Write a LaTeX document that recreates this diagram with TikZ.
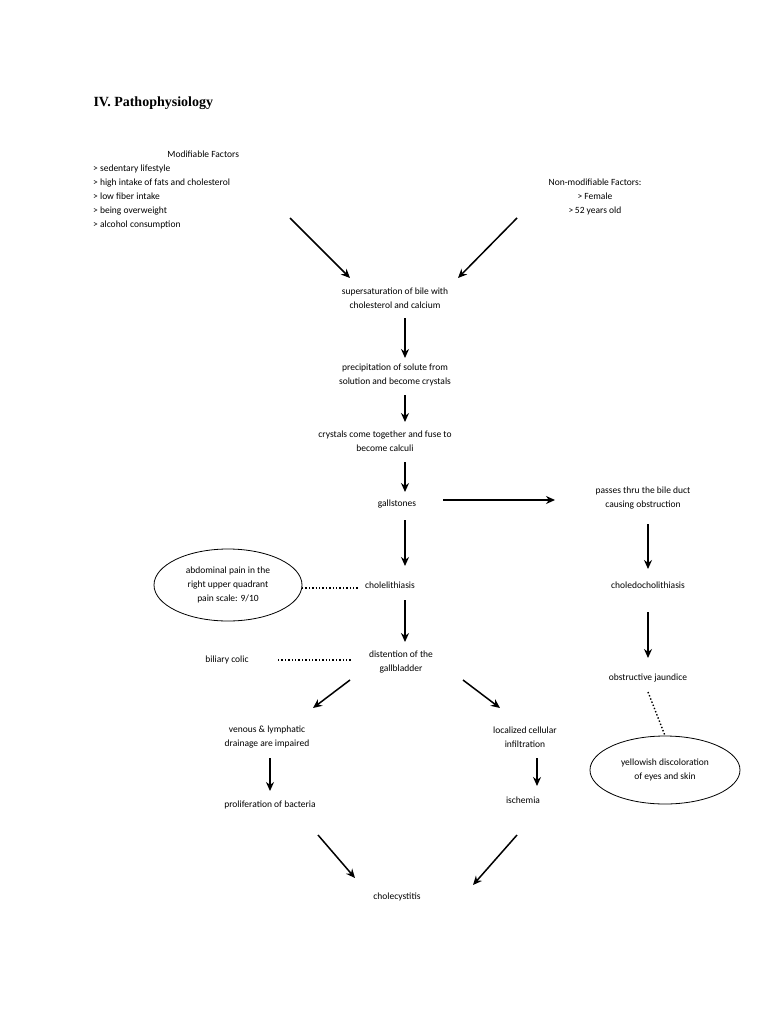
\documentclass[tikz,border=0pt]{standalone}
\usepackage{fontspec}
\setmainfont{Carlito}
\usetikzlibrary{arrows.meta,shapes.geometric}
\begin{document}
\begin{tikzpicture}[x=1pt,y=-1pt,
  txt/.style={align=center,font=\fontsize{9.5}{17}\selectfont,inner sep=1pt},
  arr/.style={-{Stealth[length=9pt,width=8pt]},line width=1.5pt},
  dot/.style={dotted,line width=1.4pt},
  oval/.style={draw,ellipse,line width=0.8pt,minimum width=148pt,minimum height=72pt,align=center,font=\fontsize{9.5}{17}\selectfont}]
\useasboundingbox (0,0) rectangle (768,1024);
\node[anchor=west,font=\rmfamily\bfseries\fontsize{14}{16}\selectfont] (title) at (90,103) {\fontspec{Liberation Serif}IV. Pathophysiology};
\node[txt,anchor=north west,align=left] (mod) at (92,150) {\makebox[220pt]{Modifiable Factors}\\[-3pt]{>} sedentary lifestyle\\[-3pt]{>} high intake of fats and cholesterol\\[-3pt]{>} low fiber intake\\[-3pt]{>} being overweight\\[-3pt]{>} alcohol consumption};
\node[txt] (non) at (595,197) {Non-modifiable Factors:\\[-3pt]{>} Female\\[-3pt]{>}\,52 years old};
\node[txt] (sup) at (395,298) {supersaturation of bile with\\[-3pt]cholesterol and calcium};
\node[txt] (pre) at (395,375) {precipitation of solute from\\[-3pt]solution and become crystals};
\node[txt] (cry) at (385,441) {crystals come together and fuse to\\[-3pt]become calculi};
\node[txt] (gal) at (397,504) {gallstones};
\node[txt] (pas) at (643,498) {passes thru the bile duct\\[-3pt]causing obstruction};
\node[txt] (chl) at (390,585) {cholelithiasis};
\node[oval] (pain) at (228,585) {abdominal pain in the\\[-3pt]right upper quadrant\\[-3pt]pain scale: 9/10};
\node[txt] (cdl) at (648,585) {choledocholithiasis};
\node[txt] (obj) at (648,678) {obstructive jaundice};
\node[oval,minimum width=150pt,minimum height=68pt] (yel) at (665,770) {yellowish discoloration\\[-3pt]of eyes and skin};
\node[txt] (dis) at (401,662) {distention of the\\[-3pt]gallbladder};
\node[txt] (bil) at (227,660) {biliary colic};
\node[txt] (ven) at (267,737) {venous \& lymphatic\\[-3pt]drainage are impaired};
\node[txt] (loc) at (525,737) {localized cellular\\[-3pt]infiltration};
\node[txt] (pro) at (270,805) {proliferation of bacteria};
\node[txt] (isc) at (523,800) {ischemia};
\node[txt] (cys) at (397,897) {cholecystitis};
\draw[arr] (290,218) -- (350,278);
\draw[arr] (517,218) -- (458,278);
\draw[arr] (405,318) -- (405,358);
\draw[arr] (405,395) -- (405,422);
\draw[arr] (405,462) -- (405,492);
\draw[arr] (443,500) -- (555,500);
\draw[arr] (405,520) -- (405,566);
\draw[arr] (648,524) -- (648,569);
\draw[arr] (648,612) -- (648,658);
\draw[arr] (405,600) -- (405,642);
\draw[arr] (350,680) -- (313,708);
\draw[arr] (463,680) -- (500,708);
\draw[arr] (270,758) -- (270,791);
\draw[arr] (537,758) -- (537,786);
\draw[arr] (318,835) -- (355,878);
\draw[arr] (517,835) -- (473,885);
\draw[dot] (302,588) -- (358,588);
\draw[dot] (278,660) -- (352,660);
\draw[dot] (648,692) -- (yel.north);
\end{tikzpicture}
\end{document}
